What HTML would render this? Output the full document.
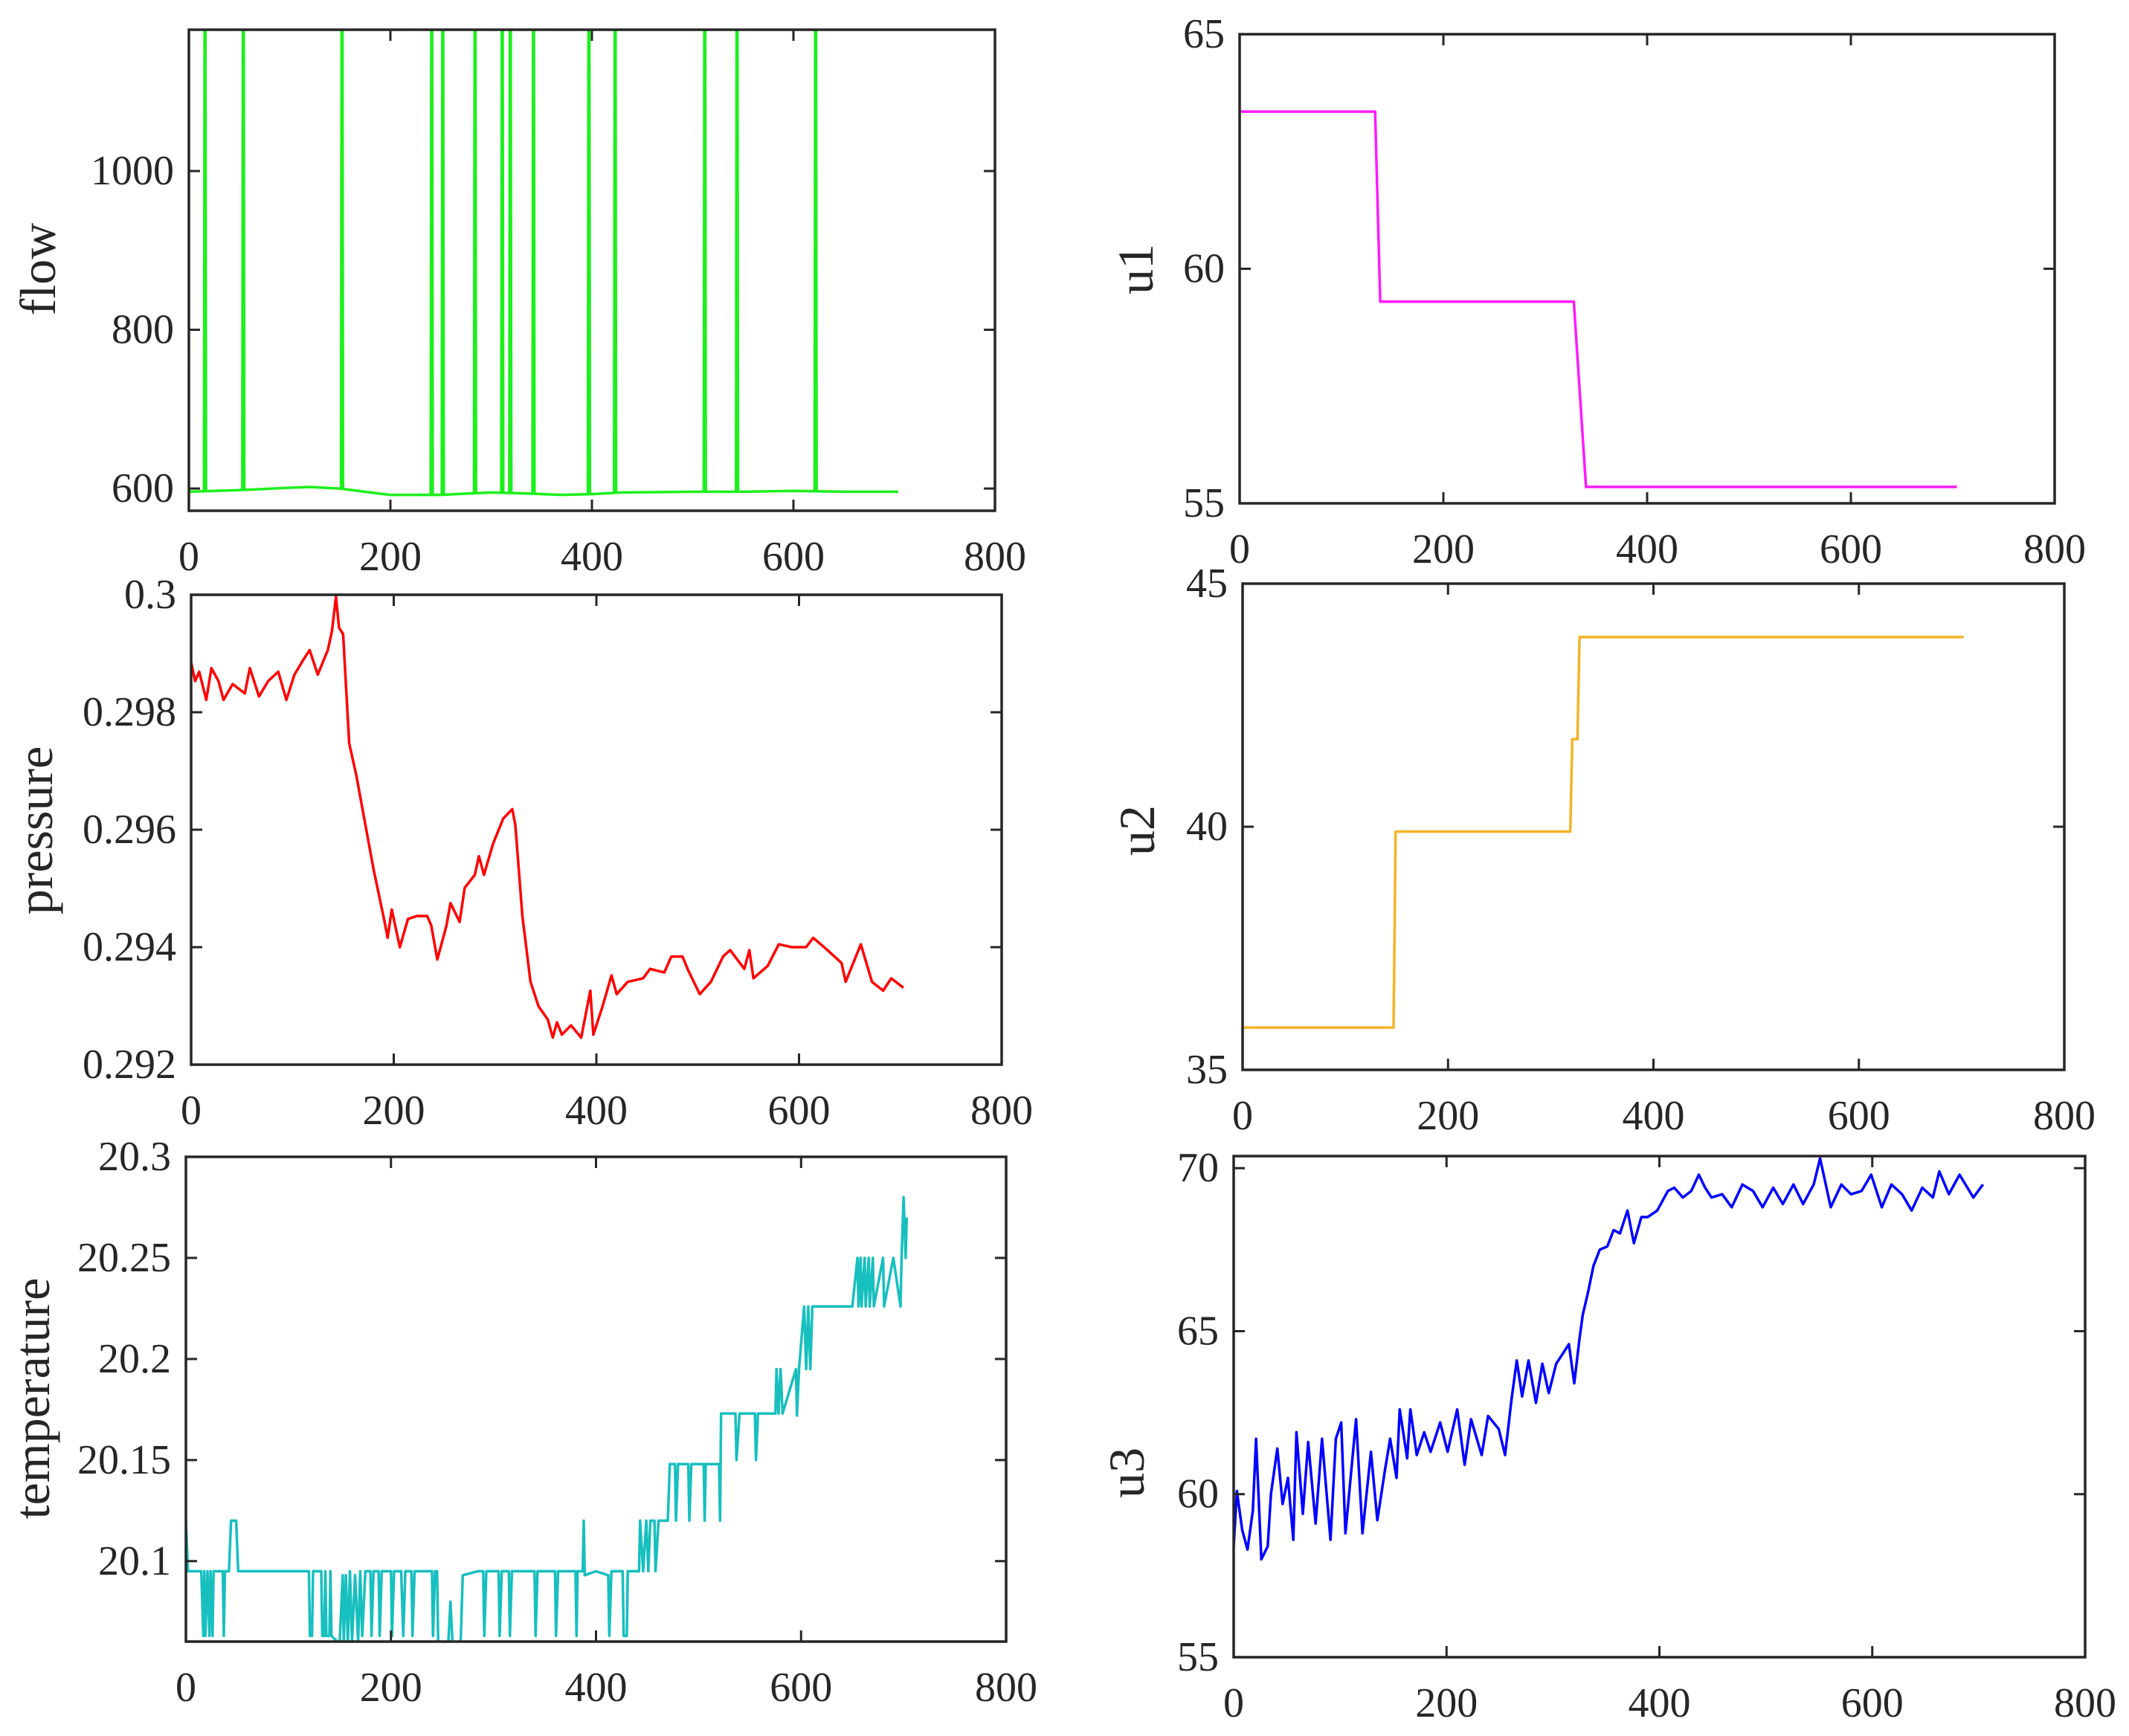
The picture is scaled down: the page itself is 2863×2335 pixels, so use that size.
<!DOCTYPE html>
<html><head><meta charset="utf-8"><style>
html,body{margin:0;padding:0;background:#fff;}
svg{display:block;font-family:"Liberation Serif",serif;}
</style></head><body>
<svg id="fig" width="2863" height="2335" viewBox="0 0 2863 2335" xmlns="http://www.w3.org/2000/svg"></svg>
<script>
// ---------- data ----------
const xTicks=[0,200,400,600,800];
const xTickLabels=["0","200","400","600","800"];

const flowBaseX=[0,50,100,120,150,180,200,250,300,330,370,400,430,500,550,600,650,704];
const flowBaseV=[596,598,601,602,600,595,592,592,595,594,592,593,595,596,596,597,596,596];
const flowSpikes=[16,54,152,241,252,284,311,319,342,397,423,512,544,622];
const flowTicks=[600,800,1000];
const flowTickLabels=["600","800","1000"];

const u1X=[0,133,138,328,340,704];
const u1V=[63.35,63.35,59.3,59.3,55.35,55.35];
const u1Ticks=[55,60,65];
const u1TickLabels=["55","60","65"];

const pressX=[0,4,8,15,20,27,32,41,53,58,67,76,86,94,102,111,117,125,135,139,143,146,150,156,163,172,180,191,194,198,206,214,223,233,237,243,252,256,265,270,280,284,289,298,308,317,320,327,335,343,352,357,361,366,375,385,394,397,406,415,420,431,446,453,467,474,485,490,502,513,525,532,546,551,555,569,580,593,607,614,628,642,646,661,672,683,691,703];
const pressV=[0.29885,0.29853,0.29869,0.29821,0.29875,0.29853,0.29821,0.29848,0.29832,0.29875,0.29827,0.29853,0.29869,0.29821,0.29864,0.29890,0.29906,0.29864,0.29906,0.29938,0.29997,0.29944,0.29933,0.29747,0.29693,0.29608,0.29533,0.29443,0.29416,0.29464,0.29400,0.29448,0.29453,0.29453,0.29437,0.29379,0.29437,0.29475,0.29443,0.29501,0.29523,0.29555,0.29523,0.29576,0.29619,0.29635,0.29608,0.29453,0.29341,0.29299,0.29277,0.29246,0.29272,0.29251,0.29267,0.29246,0.29326,0.29251,0.29299,0.29352,0.29320,0.29341,0.29347,0.29363,0.29357,0.29384,0.29384,0.29363,0.29320,0.29341,0.29384,0.29395,0.29363,0.29395,0.29347,0.29368,0.29405,0.29400,0.29400,0.29416,0.29395,0.29373,0.29341,0.29405,0.29341,0.29326,0.29347,0.29331];
const pressTicks=[0.292,0.294,0.296,0.298,0.3];
const pressTickLabels=["0.292","0.294","0.296","0.298","0.3"];

const u2X=[0,147,149,319,321,326,328,702];
const u2V=[35.87,35.87,39.9,39.9,41.8,41.8,43.9,43.9];
const u2Ticks=[35,40,45];
const u2TickLabels=["35","40","45"];

const tempX=[0,2,15,17,18,19,21,23,24,26,27,36,37,38,42,44,49,51,120,121,123,124,132,133,135,136,137,140,141,142,148,150,153,154,156,158,160,162,165,168,170,172,175,180,181,183,188,189,191,200,201,203,210,212,214,220,221,223,240,241,243,245,246,256,258,260,268,270,285,290,291,293,305,306,308,315,316,318,340,341,343,360,361,363,380,381,382,387,388,389,400,412,413,415,426,427,430,431,442,443,446,449,451,453,457,458,461,470,472,477,478,480,490,491,493,505,506,507,520,521,522,526,536,537,540,555,556,558,575,576,578,580,582,595,596,598,603,605,607,609,611,640,650,655,656,658,659,662,663,666,667,670,671,680,681,690,697,698,700,702,703];
const tempV=[20.12,20.095,20.095,20.063,20.095,20.063,20.095,20.063,20.095,20.063,20.095,20.095,20.063,20.095,20.095,20.12,20.12,20.095,20.095,20.063,20.063,20.095,20.095,20.063,20.063,20.095,20.063,20.063,20.095,20.063,20.06,20.06,20.093,20.06,20.093,20.06,20.095,20.06,20.093,20.06,20.095,20.063,20.095,20.095,20.063,20.095,20.095,20.063,20.095,20.095,20.063,20.095,20.095,20.063,20.095,20.095,20.063,20.095,20.095,20.063,20.095,20.095,20.06,20.06,20.08,20.06,20.06,20.093,20.095,20.095,20.063,20.095,20.095,20.063,20.095,20.095,20.063,20.095,20.095,20.063,20.095,20.095,20.063,20.095,20.095,20.063,20.095,20.095,20.12,20.093,20.095,20.093,20.063,20.095,20.095,20.063,20.063,20.095,20.095,20.12,20.095,20.12,20.095,20.12,20.12,20.095,20.12,20.12,20.148,20.148,20.12,20.148,20.148,20.12,20.148,20.148,20.12,20.148,20.148,20.12,20.173,20.173,20.173,20.15,20.173,20.173,20.15,20.173,20.173,20.195,20.173,20.195,20.173,20.195,20.172,20.195,20.226,20.195,20.226,20.195,20.226,20.226,20.226,20.25,20.226,20.25,20.226,20.25,20.226,20.25,20.226,20.25,20.226,20.25,20.226,20.25,20.226,20.25,20.28,20.25,20.27,20.25,20.27];
const tempTicks=[20.1,20.15,20.2,20.25,20.3];
const tempTickLabels=["20.1","20.15","20.2","20.25","20.3"];

const u3X=[0,3,8,13,18,21,26,32,35,41,46,51,56,59,65,70,77,83,91,96,101,105,115,121,129,135,142,147,153,156,163,166,172,179,185,194,201,210,217,223,233,239,249,255,261,266,271,277,284,290,296,303,309,315,320,325,328,333,338,344,351,357,363,370,376,383,389,398,408,414,422,430,437,443,449,459,468,478,488,497,507,516,526,535,545,551,561,571,580,590,599,609,618,628,637,647,657,663,672,682,695,704];
const u3V=[58.4,60.1,58.9,58.3,59.5,61.7,58.0,58.4,60.0,61.4,59.7,60.5,58.6,61.9,59.4,61.6,59.1,61.7,58.6,61.7,62.2,58.8,62.3,58.8,61.3,59.2,60.7,61.7,60.5,62.6,61.1,62.6,61.2,61.9,61.3,62.2,61.3,62.6,60.9,62.3,61.2,62.4,62.0,61.2,62.9,64.1,63.0,64.1,62.8,64.0,63.1,64.0,64.3,64.6,63.4,64.8,65.5,66.2,67.0,67.5,67.6,68.1,68.0,68.7,67.7,68.5,68.5,68.7,69.3,69.4,69.1,69.3,69.8,69.4,69.1,69.2,68.8,69.5,69.3,68.8,69.4,68.9,69.5,68.9,69.5,70.3,68.8,69.5,69.2,69.3,69.8,68.8,69.5,69.2,68.7,69.4,69.1,69.9,69.2,69.8,69.1,69.5];
const u3Ticks=[55,60,65,70];
const u3TickLabels=["55","60","65","70"];

// ---------- drawing ----------
const NS="http://www.w3.org/2000/svg";
const svg=document.getElementById('fig');
function mk(tag,attrs,parent){const e=document.createElementNS(NS,tag);for(const k in attrs)e.setAttribute(k,attrs[k]);(parent||svg).appendChild(e);return e;}

function panel(p){
  const g=mk('g',{});
  
  
  const sx=v=>p.L+(v-0)/800*(p.R-p.L);
  const sy=v=>p.B-(v-p.y0)/(p.y1-p.y0)*(p.B-p.T);
  const cid='clip-'+p.name;
  const cp=mk('clipPath',{id:cid},g);
  mk('rect',{x:p.L,y:p.T,width:p.R-p.L,height:p.B-p.T},cp);
  // series
  const sg=mk('g',{'clip-path':'url(#'+cid+')'},g);
  let d='';
  for(let i=0;i<p.xs.length;i++){d+=(i?'L':'M')+sx(p.xs[i]).toFixed(1)+' '+sy(p.vs[i]).toFixed(1);}
  const line=mk('path',{d:d,fill:'none',stroke:p.color,'stroke-width':3.5,'stroke-linejoin':'round'},sg);
  
  
  if(p.spikes){
    p.spikes.forEach(s=>{
      let bi=0;for(let i=0;i<p.xs.length;i++){if(Math.abs(p.xs[i]-s)<Math.abs(p.xs[bi]-s))bi=i;}
      const base=p.vs[bi];
      const sp=mk('path',{d:'M'+sx(s-1)+' '+sy(base)+'L'+sx(s-0.3)+' '+sy(1300)+'L'+sx(s+0.3)+' '+sy(1300)+'L'+sx(s+1)+' '+sy(base),fill:'none',stroke:p.color,'stroke-width':3.5},sg);
      
      
    });
  }
  // box
  const box=mk('rect',{x:p.L,y:p.T,width:p.R-p.L,height:p.B-p.T,fill:'none',stroke:'#262626','stroke-width':3.5},g);
  
  
  const tl=15;
  xTicks.forEach((t,i)=>{
    const x=sx(t);
    mk('line',{x1:x,y1:p.B,x2:x,y2:p.B-tl,stroke:'#262626','stroke-width':3},g);
    mk('line',{x1:x,y1:p.T,x2:x,y2:p.T+tl,stroke:'#262626','stroke-width':3},g);
    const tx=mk('text',{x:x,y:p.B+80,'text-anchor':'middle','font-size':56,fill:'#262626'},g);
    tx.textContent=xTickLabels[i];
    
    
  });
  p.yt.forEach((t,i)=>{
    const y=sy(t);
    mk('line',{x1:p.L,y1:y,x2:p.L+tl,y2:y,stroke:'#262626','stroke-width':3},g);
    mk('line',{x1:p.R,y1:y,x2:p.R-tl,y2:y,stroke:'#262626','stroke-width':3},g);
    const ty=mk('text',{x:p.L-20,y:y+18,'text-anchor':'end','font-size':56,fill:'#262626'},g);
    ty.textContent=p.ytl[i];
    
    
  });
  const lab=mk('text',{x:0,y:0,'text-anchor':'middle','font-size':68,fill:'#262626',transform:'translate('+p.lx+','+p.ly+') rotate(-90)'},g);
  lab.textContent=p.label;
  
  
}

panel({name:'flow',L:254,R:1338,T:40,B:687,y0:572,y1:1178,xs:flowBaseX,vs:flowBaseV,spikes:flowSpikes,color:'#1cf01c',yt:flowTicks,ytl:flowTickLabels,label:'flow',lx:74,ly:362});
panel({name:'u1',L:1667,R:2763,T:46,B:677,y0:55,y1:65,xs:u1X,vs:u1V,color:'#ff1aff',yt:u1Ticks,ytl:u1TickLabels,label:'u1',lx:1550,ly:362});
panel({name:'pressure',L:257,R:1347,T:800,B:1432,y0:0.292,y1:0.3,xs:pressX,vs:pressV,color:'#ff0000',yt:pressTicks,ytl:pressTickLabels,label:'pressure',lx:70,ly:1117});
panel({name:'u2',L:1671,R:2776,T:785,B:1439,y0:35,y1:45,xs:u2X,vs:u2V,color:'#f5b326',yt:u2Ticks,ytl:u2TickLabels,label:'u2',lx:1552,ly:1117});
panel({name:'temperature',L:250,R:1353,T:1556,B:2208,y0:20.0602,y1:20.3,xs:tempX,vs:tempV,color:'#17bfbf',yt:tempTicks,ytl:tempTickLabels,label:'temperature',lx:66,ly:1881});
panel({name:'u3',L:1659,R:2804,T:1555,B:2229,y0:55,y1:70.37,xs:u3X,vs:u3V,color:'#0000ff',yt:u3Ticks,ytl:u3TickLabels,label:'u3',lx:1538,ly:1981});
</script>
</body></html>
